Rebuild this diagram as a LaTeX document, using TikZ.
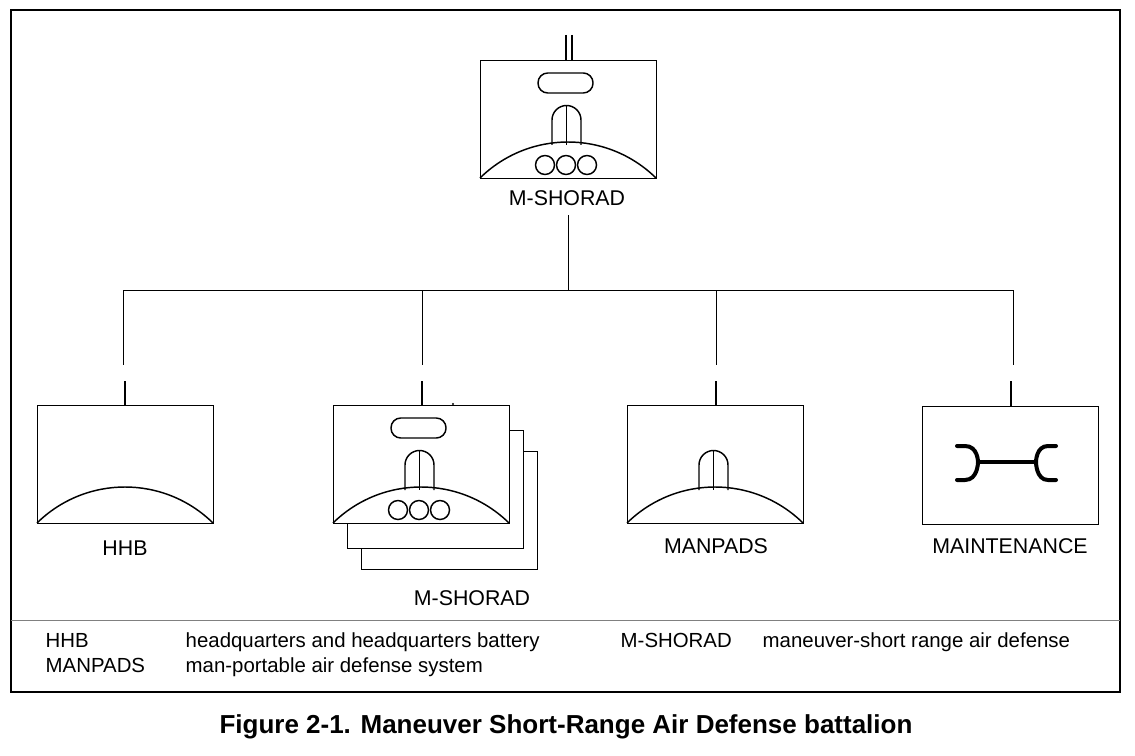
\documentclass[tikz,border=0pt]{standalone}
\usepackage{fontspec}
\setmainfont{Liberation Sans}
\begin{document}
\begin{tikzpicture}[x=0.75pt,y=-0.75pt,line width=1.1pt,
  lbl/.style={font=\fontsize{16}{19}\selectfont,inner sep=0pt},
  leg/.style={font=\fontsize{15.3}{18}\selectfont,inner sep=0pt,anchor=base west},
  box/.style={draw,rectangle,minimum width=132pt,minimum height=88.5pt,inner sep=0pt,anchor=north west,fill=white},
  ln/.style={line width=0.6pt},
  pics/arch/.style={code={\draw (0,118) .. controls (49,#1) and (127,#1) .. (176,118);}},
  pics/missile/.style={code={
    \draw (72,#1) -- (72,60) arc[start angle=180,end angle=360,radius=14.5] -- (101,#1);
    \draw (86.5,45.5) -- (86.5,#1);}},
  pics/ad/.style={code={
    \pic {arch=70};
    \draw[rounded corners=7.3pt] (58,13) rectangle (113,33);
    \pic {missile=85};
    \foreach \cx in {65,86,107} \draw (\cx,105) circle[radius=9.5];}}
]
\useasboundingbox (0,0) rectangle (1135,756);
\draw[line width=1.3pt] (11,10) rectangle (1120,692);
\draw[line width=0.6pt,gray] (11,620) -- (1120,620);
% top
\node[box] (top) at (480,60) {};
\pic at (480,60) {ad};
\draw (566,35) -- (566,60) (572,35) -- (572,60);
\node[lbl] (toplbl) at (567,198) {M-SHORAD};
\coordinate (j) at (568,290);
\draw[ln] (568,215) -- (j);
\draw[ln] (123,290) -- (1013,290);
\foreach \x in {123,422,716,1013} \draw[ln] (\x,290) -- (\x,365);
% HHB
\node[box] (hhb) at (37,405) {};
\pic at (37,405) {arch=70};
\draw (125,381) -- (125,405);
\node[lbl] at (125,548) {HHB};
% M-SHORAD stack
\node[box] (b3) at (361,451) {};
\node[box] (b2) at (347,430) {};
\node[box] (b1) at (333,405) {};
\pic at (333,405) {ad};
\draw (422,381) -- (422,405);
\fill (453,404) circle[radius=1.2];
\node[lbl] at (472,598) {M-SHORAD};
% MANPADS
\node[box] (mp) at (627,405) {};
\pic at (627,405) {arch=70};
\pic at (627,405) {missile=85};
\draw (716,381) -- (716,405);
\node[lbl] at (716,546) {MANPADS};
% Maintenance
\node[box] (mt) at (922,406) {};
\draw (1011,381) -- (1011,406);
\draw[line width=3pt,line cap=round] (957,446) -- (965,446) .. controls (978,446) and (978,462) .. (978,462) .. controls (978,462) and (978,480) .. (965,480) -- (957,480);
\draw[line width=3pt,line cap=round] (1056,446) -- (1048,446) .. controls (1036,446) and (1036,462) .. (1036,462) .. controls (1036,462) and (1036,480) .. (1048,480) -- (1056,480);
\draw[line width=3pt] (978,462) -- (1036,462);
\node[lbl] at (1010,546) {MAINTENANCE};
% legend
\node[leg] at (45,647) {HHB};
\node[leg] at (185,647) {headquarters and headquarters battery};
\node[leg] at (620,647) {M-SHORAD};
\node[leg] at (762,647) {maneuver-short range air defense};
\node[leg] at (45,672) {MANPADS};
\node[leg] at (185,672) {man-portable air defense system};
\node[font=\bfseries\fontsize{19.5}{23}\selectfont] at (566,727) {Figure 2-1. Maneuver Short-Range Air Defense battalion};
\end{tikzpicture}
\end{document}
